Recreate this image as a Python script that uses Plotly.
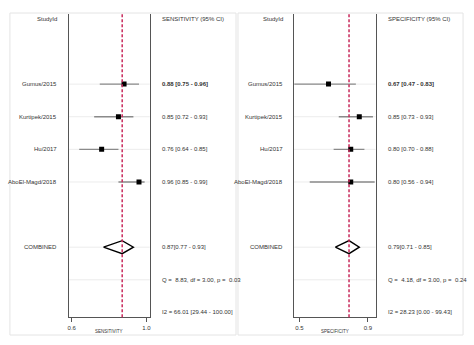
import plotly.graph_objects as go

# ---- data -------------------------------------------------------------
studies = ["Gumus/2015", "Kurtipek/2015", "Hu/2017", "AboEl-Magd/2018"]

sens = [0.88, 0.85, 0.76, 0.96]
sens_lo = [0.75, 0.72, 0.64, 0.85]
sens_hi = [0.96, 0.93, 0.85, 0.99]
sens_pooled = [0.87, 0.77, 0.93]          # estimate, lower, upper
sens_q = [8.83, 3.00, 0.03]               # Q, df, p
sens_i2 = [66.01, 29.44, 100.00]

spec = [0.67, 0.85, 0.80, 0.80]
spec_lo = [0.47, 0.73, 0.70, 0.56]
spec_hi = [0.83, 0.93, 0.88, 0.94]
spec_pooled = [0.79, 0.71, 0.85]
spec_q = [4.18, 3.00, 0.24]
spec_i2 = [28.23, 0.00, 99.43]

sens_ticks = [0.6, 1.0]
spec_ticks = [0.5, 0.9]

# row positions (0 = header row, studies start at row 2)
study_rows = [2, 3, 4, 5]
combined_row = 7
q_row = 8
i2_row = 9

W, H = 474, 345
FONT = "Liberation Sans, Arial, sans-serif"
AXIS_COL = "#555555"
REF_COL = "#c8285a"
CI_COL = "#8a8a8a"
TXT_COL = "#333333"


def px(x):
    return x / W


def py(y):
    return 1 - y / H


fig = go.Figure()

panels = [
    dict(xa="x", ya="y", est=sens, lo=sens_lo, hi=sens_hi, pooled=sens_pooled,
         q=sens_q, i2=sens_i2, ticks=sens_ticks, rng=[0.586, 1.0175],
         dom=[px(67.7), px(149.0)], label_x=57.5, text_x=159,
         head="SENSITIVITY (95% CI)", title="SENSITIVITY", box=[8, 236]),
    dict(xa="x2", ya="y2", est=spec, lo=spec_lo, hi=spec_hi, pooled=spec_pooled,
         q=spec_q, i2=spec_i2, ticks=spec_ticks, rng=[0.467, 0.945],
         dom=[px(294.3), px(376.7)], label_x=285.5, text_x=387,
         head="SPECIFICITY (95% CI)", title="SPECIFICITY", box=[238, 465]),
]

shapes = []
annotations = []
y_dom = [py(317.3), py(14)]

for k, p in enumerate(panels):
    xa, ya = p["xa"], p["ya"]
    xref = xa
    yref = ya

    # faint row guides
    for r in study_rows + [combined_row, q_row]:
        shapes.append(dict(type="line", xref=f"{xa} domain", yref=yref,
                           x0=0, x1=1, y0=r, y1=r,
                           line=dict(color="#ececec", width=1), layer="below"))

    # confidence interval segments
    cx, cy = [], []
    for r, lo, hi in zip(study_rows, p["lo"], p["hi"]):
        cx += [lo, hi, None]
        cy += [r, r, None]
    fig.add_trace(go.Scatter(x=cx, y=cy, mode="lines", xaxis=xa, yaxis=ya,
                             line=dict(color=CI_COL, width=1.4),
                             hoverinfo="skip", showlegend=False))

    # point estimates
    fig.add_trace(go.Scatter(x=p["est"], y=study_rows, mode="markers",
                             xaxis=xa, yaxis=ya,
                             marker=dict(symbol="square", size=5, color="black",
                                         line=dict(width=0)),
                             showlegend=False))

    # pooled diamond
    est, lo, hi = p["pooled"]
    h = 0.2
    fig.add_trace(go.Scatter(x=[lo, est, hi, est, lo],
                             y=[combined_row, combined_row - h, combined_row,
                                combined_row + h, combined_row],
                             mode="lines", fill="toself", fillcolor="white",
                             xaxis=xa, yaxis=ya,
                             line=dict(color="black", width=1.4),
                             showlegend=False))

    # pooled reference line
    shapes.append(dict(type="line", xref=xref, yref=f"{ya} domain",
                       x0=est, x1=est, y0=0, y1=1,
                       line=dict(color=REF_COL, width=1.5, dash="3px,2px")))

    # study labels and values
    annotations.append(dict(xref="paper", yref=yref, x=px(p["label_x"]), y=0,
                            text="StudyId", xanchor="right", yanchor="middle",
                            showarrow=False))
    annotations.append(dict(xref="paper", yref=yref, x=px(p["text_x"]), y=0,
                            text=p["head"], xanchor="left", yanchor="middle",
                            showarrow=False))
    for i, (name, r) in enumerate(zip(studies, study_rows)):
        annotations.append(dict(xref="paper", yref=yref, x=px(p["label_x"]), y=r,
                                text=name, xanchor="right", yanchor="middle",
                                showarrow=False))
        val = f"{p['est'][i]:.2f} [{p['lo'][i]:.2f} - {p['hi'][i]:.2f}]"
        if i == 0:
            val = f"<b>{val}</b>"
        annotations.append(dict(xref="paper", yref=yref, x=px(p["text_x"]), y=r,
                                text=val, xanchor="left", yanchor="middle",
                                showarrow=False))
    annotations.append(dict(xref="paper", yref=yref, x=px(p["label_x"]),
                            y=combined_row, text="COMBINED", xanchor="right",
                            yanchor="middle", showarrow=False))
    annotations.append(dict(xref="paper", yref=yref, x=px(p["text_x"]),
                            y=combined_row,
                            text=f"{est:.2f}[{lo:.2f} - {hi:.2f}]",
                            xanchor="left", yanchor="middle", showarrow=False))
    qv, dfv, pv = p["q"]
    annotations.append(dict(xref="paper", yref=yref, x=px(p["text_x"]), y=q_row,
                            text=f"Q = {qv:5.2f}, df = {dfv:.2f}, p = {pv:5.2f}".replace(" ", "&nbsp;"),
                            xanchor="left", yanchor="middle", showarrow=False))
    iv, ilo, ihi = p["i2"]
    annotations.append(dict(xref="paper", yref=yref, x=px(p["text_x"]), y=i2_row,
                            text=f"I2 = {iv:.2f} [{ilo:.2f} - {ihi:.2f}]",
                            xanchor="left", yanchor="middle", showarrow=False))
    # axis title
    annotations.append(dict(xref="paper", yref="paper",
                            x=(p["dom"][0] + p["dom"][1]) / 2, y=py(331),
                            text=p["title"], xanchor="center", yanchor="middle",
                            showarrow=False, font=dict(size=4.5, color=TXT_COL)))

    # panel frame
    shapes.append(dict(type="rect", xref="paper", yref="paper",
                       x0=px(p["box"][0]), x1=px(p["box"][1]),
                       y0=py(335), y1=py(13),
                       line=dict(color="#e4e4e4", width=1), layer="below"))

    axis_x = dict(domain=p["dom"], range=p["rng"], anchor=ya,
                  showgrid=False, zeroline=False, showline=True,
                  linecolor=AXIS_COL, linewidth=1.2,
                  ticks="outside", ticklen=4, tickwidth=1, tickcolor=AXIS_COL,
                  tickvals=p["ticks"], ticktext=[f"{t:.1f}" for t in p["ticks"]],
                  tickfont=dict(size=6, color=TXT_COL, family=FONT))
    axis_y = dict(domain=y_dom, range=[9.15, -0.15], anchor=xa,
                  showgrid=False, zeroline=False, showticklabels=False,
                  ticks="", showline=True, mirror=True,
                  linecolor=AXIS_COL, linewidth=1.2)
    suffix = "" if k == 0 else "2"
    fig.update_layout(**{f"xaxis{suffix}": axis_x, f"yaxis{suffix}": axis_y})

fig.update_layout(
    width=W, height=H,
    margin=dict(l=0, r=0, t=0, b=0),
    paper_bgcolor="white", plot_bgcolor="white",
    font=dict(family=FONT, size=6, color=TXT_COL),
    shapes=shapes, annotations=annotations, showlegend=False,
)

fig.write_html("out.html")
